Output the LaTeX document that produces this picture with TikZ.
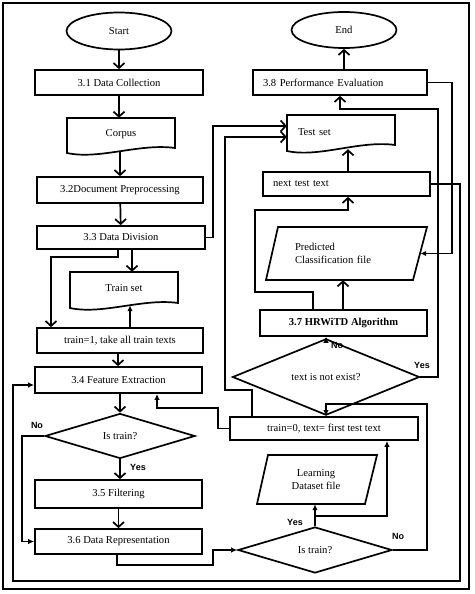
\documentclass[tikz,border=0pt]{standalone}
\usepackage{fontspec}
\setmainfont{Liberation Serif}
\newfontfamily\lblfont{Liberation Sans}
\usetikzlibrary{arrows.meta,shapes.geometric}
\begin{document}
\begin{tikzpicture}[x=1pt,y=-1pt,
  every node/.style={font=\fontsize{10.6}{13}\selectfont},
  proc/.style={draw, line width=1.7pt, inner sep=0pt, rectangle},
  txt/.style={inner sep=0pt, rectangle},
  term/.style={draw, ellipse, line width=1.7pt, inner sep=0pt},
  dec/.style={draw, diamond, line width=1.7pt, inner sep=0pt},
  shp/.style={line width=1.7pt, line join=miter},
  lbl/.style={font=\lblfont\bfseries\fontsize{9}{10}\selectfont, inner sep=0pt},
  oarr/.style={line width=1.7pt, -{Straight Barb[length=5pt,width=11pt]}},
  farr/.style={line width=1.7pt, -{Latex[length=6pt,width=5.5pt]}}
]
\useasboundingbox (0,0) rectangle (474,594);
\fill[white] (0,0) rectangle (474,594);
\draw[line width=1.2pt] (3,3) rectangle (469,589);

% left column
\node[term, minimum width=105pt, minimum height=37pt] (start) at (119,31) {Start};
\node[proc, minimum width=168pt, minimum height=25pt] (n31) at (119,82.5) {3.1 Data Collection};
\node[txt, minimum width=108pt, minimum height=33pt] (corpus) at (121,134.5) {Corpus};
\draw[shp] (67,153) -- (67,118) -- (175,118) -- (175,148) .. controls (140,143) and (99,160) .. (67,153) -- cycle;
\node[proc, minimum width=166pt, minimum height=26pt] (n32) at (120,190) {3.2Document Preprocessing};
\node[proc, minimum width=168pt, minimum height=23pt] (n33) at (121,237.5) {3.3 Data Division};
\node[txt, minimum width=108pt, minimum height=33pt] (trainset) at (124,288.5) {Train set};
\draw[shp] (70,308) -- (70,272) -- (178,272) -- (178,303) .. controls (143,298) and (102,315) .. (70,308) -- cycle;
\node[proc, minimum width=166pt, minimum height=25pt] (train1) at (120,340.5) {train=1, take all train texts};
\node[proc, minimum width=167pt, minimum height=26pt] (n34) at (118.5,380) {3.4 Feature Extraction};
\node[dec, minimum width=150pt, minimum height=45pt] (istrain1) at (120,436) {Is train?};
\node[proc, minimum width=167pt, minimum height=28pt] (n35) at (118.5,494) {3.5 Filtering};
\node[proc, minimum width=167pt, minimum height=25pt] (n36) at (118.5,541.5) {3.6 Data Representation};

% right column
\node[term, minimum width=105pt, minimum height=36pt] (end) at (344,30) {End};
\node[proc, minimum width=174pt, minimum height=25pt, inner xsep=10pt, text width=154pt, align=left] (n38) at (340,82.5) {3.8 Performance Evaluation};
\node[txt, minimum width=108pt, minimum height=34pt, inner xsep=11pt, text width=86pt, align=left] (testset) at (341,132) {Test set};
\draw[shp] (287,151) -- (287,115) -- (395,115) -- (395,145) .. controls (360,140) and (319,158) .. (287,151) -- cycle;
\node[proc, minimum width=167pt, minimum height=24pt, inner xsep=10pt, text width=147pt, align=left] (nexttest) at (346.5,184) {next test text};
\node[txt, minimum width=148pt, minimum height=53pt, inner xsep=23pt, text width=102pt, align=left] (pred) at (346,253.5) {Predicted\\Classification file};
\draw[shp] (278,227) -- (427,227) -- (413,280) -- (266,280) -- cycle;
\node[proc, minimum width=167pt, minimum height=26pt] (hrw) at (343.5,323) {\textbf{3.7 HRWiTD Algorithm}};
\node[dec, minimum width=187pt, minimum height=45pt] (notexist) at (326,377) {text is not exist?};
\node[proc, minimum width=188pt, minimum height=23pt] (train0) at (324,428.5) {train=0, text= first test text};
\node[txt, minimum width=109pt, minimum height=49pt, align=center] (learn) at (316,479.5) {Learning\\Dataset file};
\draw[shp] (268,455) -- (377,455) -- (365,504) -- (257,504) -- cycle;
\node[dec, minimum width=154pt, minimum height=46pt] (istrain2) at (315,550) {Is train?};

% labels
\node[lbl] at (138,467) {Yes};
\node[lbl] at (37,425) {No};
\node[lbl] at (295,522) {Yes};
\node[lbl] at (398,536) {No};
\node[lbl, anchor=west] at (331,345) {No};
\node[lbl] at (422,365) {Yes};

% connectors
\draw[oarr] (start) -- (n31);
\draw[oarr] (n31.south) -- (n31.south |- corpus.north);
\draw[oarr] (n32.north |- corpus.south) -- (n32.north);
\draw[oarr] (n32) -- (n33);
\draw[oarr] (132,0 |- n33.south) -- (132,0 |- trainset.north);
\draw[oarr] (118,0 |- n33.south) -- (118,257) -- (51,257) -- (51,0 |- train1.north);
\draw[farr] (130,0 |- train1.north) -- (130,0 |- trainset.south);
\draw[oarr] (118,0 |- train1.south) -- (118,0 |- n34.north);
\draw[oarr] (istrain1.north |- n34.south) -- (istrain1.north);
\draw[oarr] (istrain1.south) -- (istrain1.south |- n35.north);
\draw[farr] (istrain1.west) -- (22,0 |- istrain1.west) |- (n36.west);
\draw[oarr] (n35) -- (n36);
\draw[farr] (117,0 |- n36.south) -- (117,565) -- (213,565) -- (213,0 |- istrain2.west) -- (istrain2.west);
\draw[farr] (istrain2.north) -- (istrain2.north |- learn.south);
\draw[farr] (istrain2.north) -- (istrain2.north |- 0,516) -- (387,516) -- (387,0 |- train0.south);
\draw[farr] (istrain2.east) -- (427,0 |- istrain2.east) -- (427,404) -- (notexist.south |- 0,404) -- (notexist.south);
\draw[farr] (notexist.north) -- (notexist.north |- hrw.south);
\draw[oarr] (notexist.east) -- (438,0 |- notexist.east) -- (438,109) -- (340,109) -- (340,0 |- n38.south);
\draw[oarr] (343,0 |- hrw.north) -- (343,0 |- pred.south);
\draw[oarr] (313,0 |- hrw.north) -- (313,292) -- (255,292) -- (255,210) -- (348,210) -- (348,0 |- nexttest.south);
\draw[oarr] (348,0 |- nexttest.north) -- (348,0 |- testset.south);
\draw[oarr] (end.south |- n38.north) -- (end.south);
\draw[farr] (n38.east) -- (452,0 |- n38.east) -- (452,0 |- pred.east) -- (pred.east);
\draw[farr] (nexttest.east) -- (460,0 |- nexttest.east) -- (460,581) -- (13,581) -- (13,385) -- (n34.west |- 0,385);
\draw[oarr] (n33.east) -- (213,0 |- n33.east) -- (213,126) -- (testset.west |- 0,126);
\draw[oarr] (252,0 |- train0.north) -- (252,390) -- (225,390) -- (225,137) -- (testset.west |- 0,137);
\draw[farr] (train0.west) -- (218,0 |- train0.west) -- (218,408) -- (157,408) -- (157,0 |- n34.south);
\end{tikzpicture}
\end{document}
